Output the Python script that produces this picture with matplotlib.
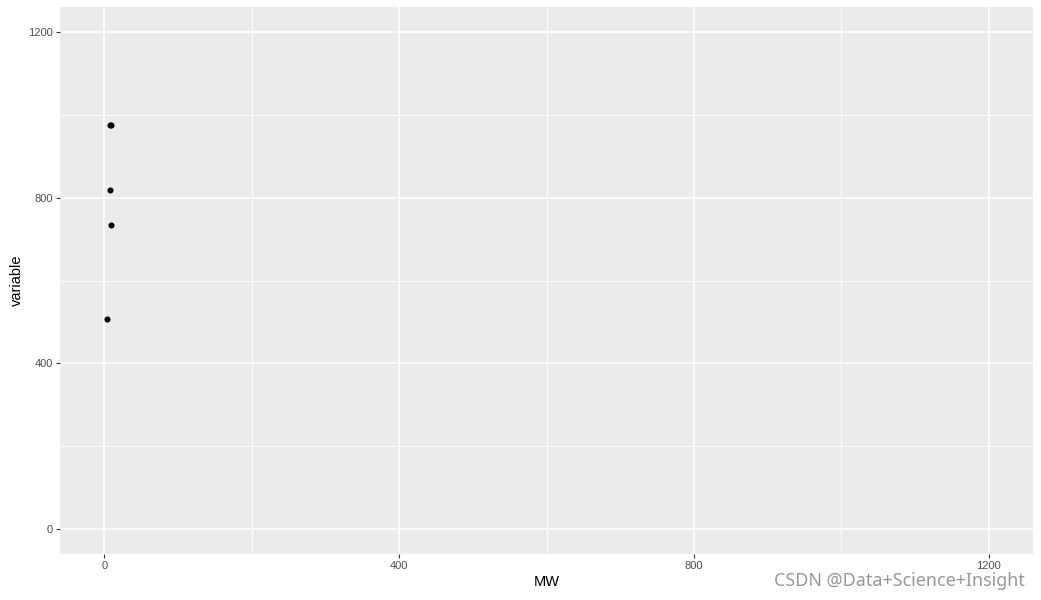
import matplotlib
matplotlib.use("Agg")
import matplotlib.pyplot as plt
from matplotlib.ticker import MultipleLocator

# values
mw = [7.7, 8.7, 8.1, 9.5, 4.1]
variable = [975, 975, 819, 734, 508]

x_ticks = [0, 400, 800, 1200]
y_ticks = [0, 400, 800, 1200]

W, H = 1041, 600
fig = plt.figure(figsize=(W / 100, H / 100), dpi=100)
ax = fig.add_axes([60 / W, 1 - 554 / H, (1033 - 60) / W, (554 - 7) / H])

ax.set_facecolor('#EBEBEB')
for s in ax.spines.values():
    s.set_visible(False)

ax.set_xlim(-60, 1260)
ax.set_ylim(-60, 1260)
ax.set_xticks(x_ticks)
ax.set_yticks(y_ticks)
ax.xaxis.set_minor_locator(MultipleLocator(200))
ax.yaxis.set_minor_locator(MultipleLocator(200))
ax.grid(which='major', color='white', linewidth=1.1)
ax.grid(which='minor', color='white', linewidth=0.55)
ax.set_axisbelow(True)
ax.tick_params(which='major', length=3, width=0.8, color='#333333',
               labelsize=8, labelcolor='#4D4D4D', pad=2)
ax.tick_params(which='minor', length=0)
for lab in ax.get_xticklabels() + ax.get_yticklabels():
    lab.set_fontfamily('Liberation Sans')

ax.scatter(mw, variable, s=19, color='black', linewidths=0, zorder=3)

ax.set_xlabel('MW', fontsize=10.5, family='Liberation Sans', labelpad=3)
ax.set_ylabel('variable', fontsize=10.5, family='Liberation Sans', labelpad=3)

fig.text(1025 / W, 1 - 586 / H, 'CSDN @Data+Science+Insight', ha='right',
         va='baseline', fontsize=12.9, color='#8C8C8C', alpha=0.9,
         family='Noto Sans')

fig.savefig('out.png', dpi=100)
